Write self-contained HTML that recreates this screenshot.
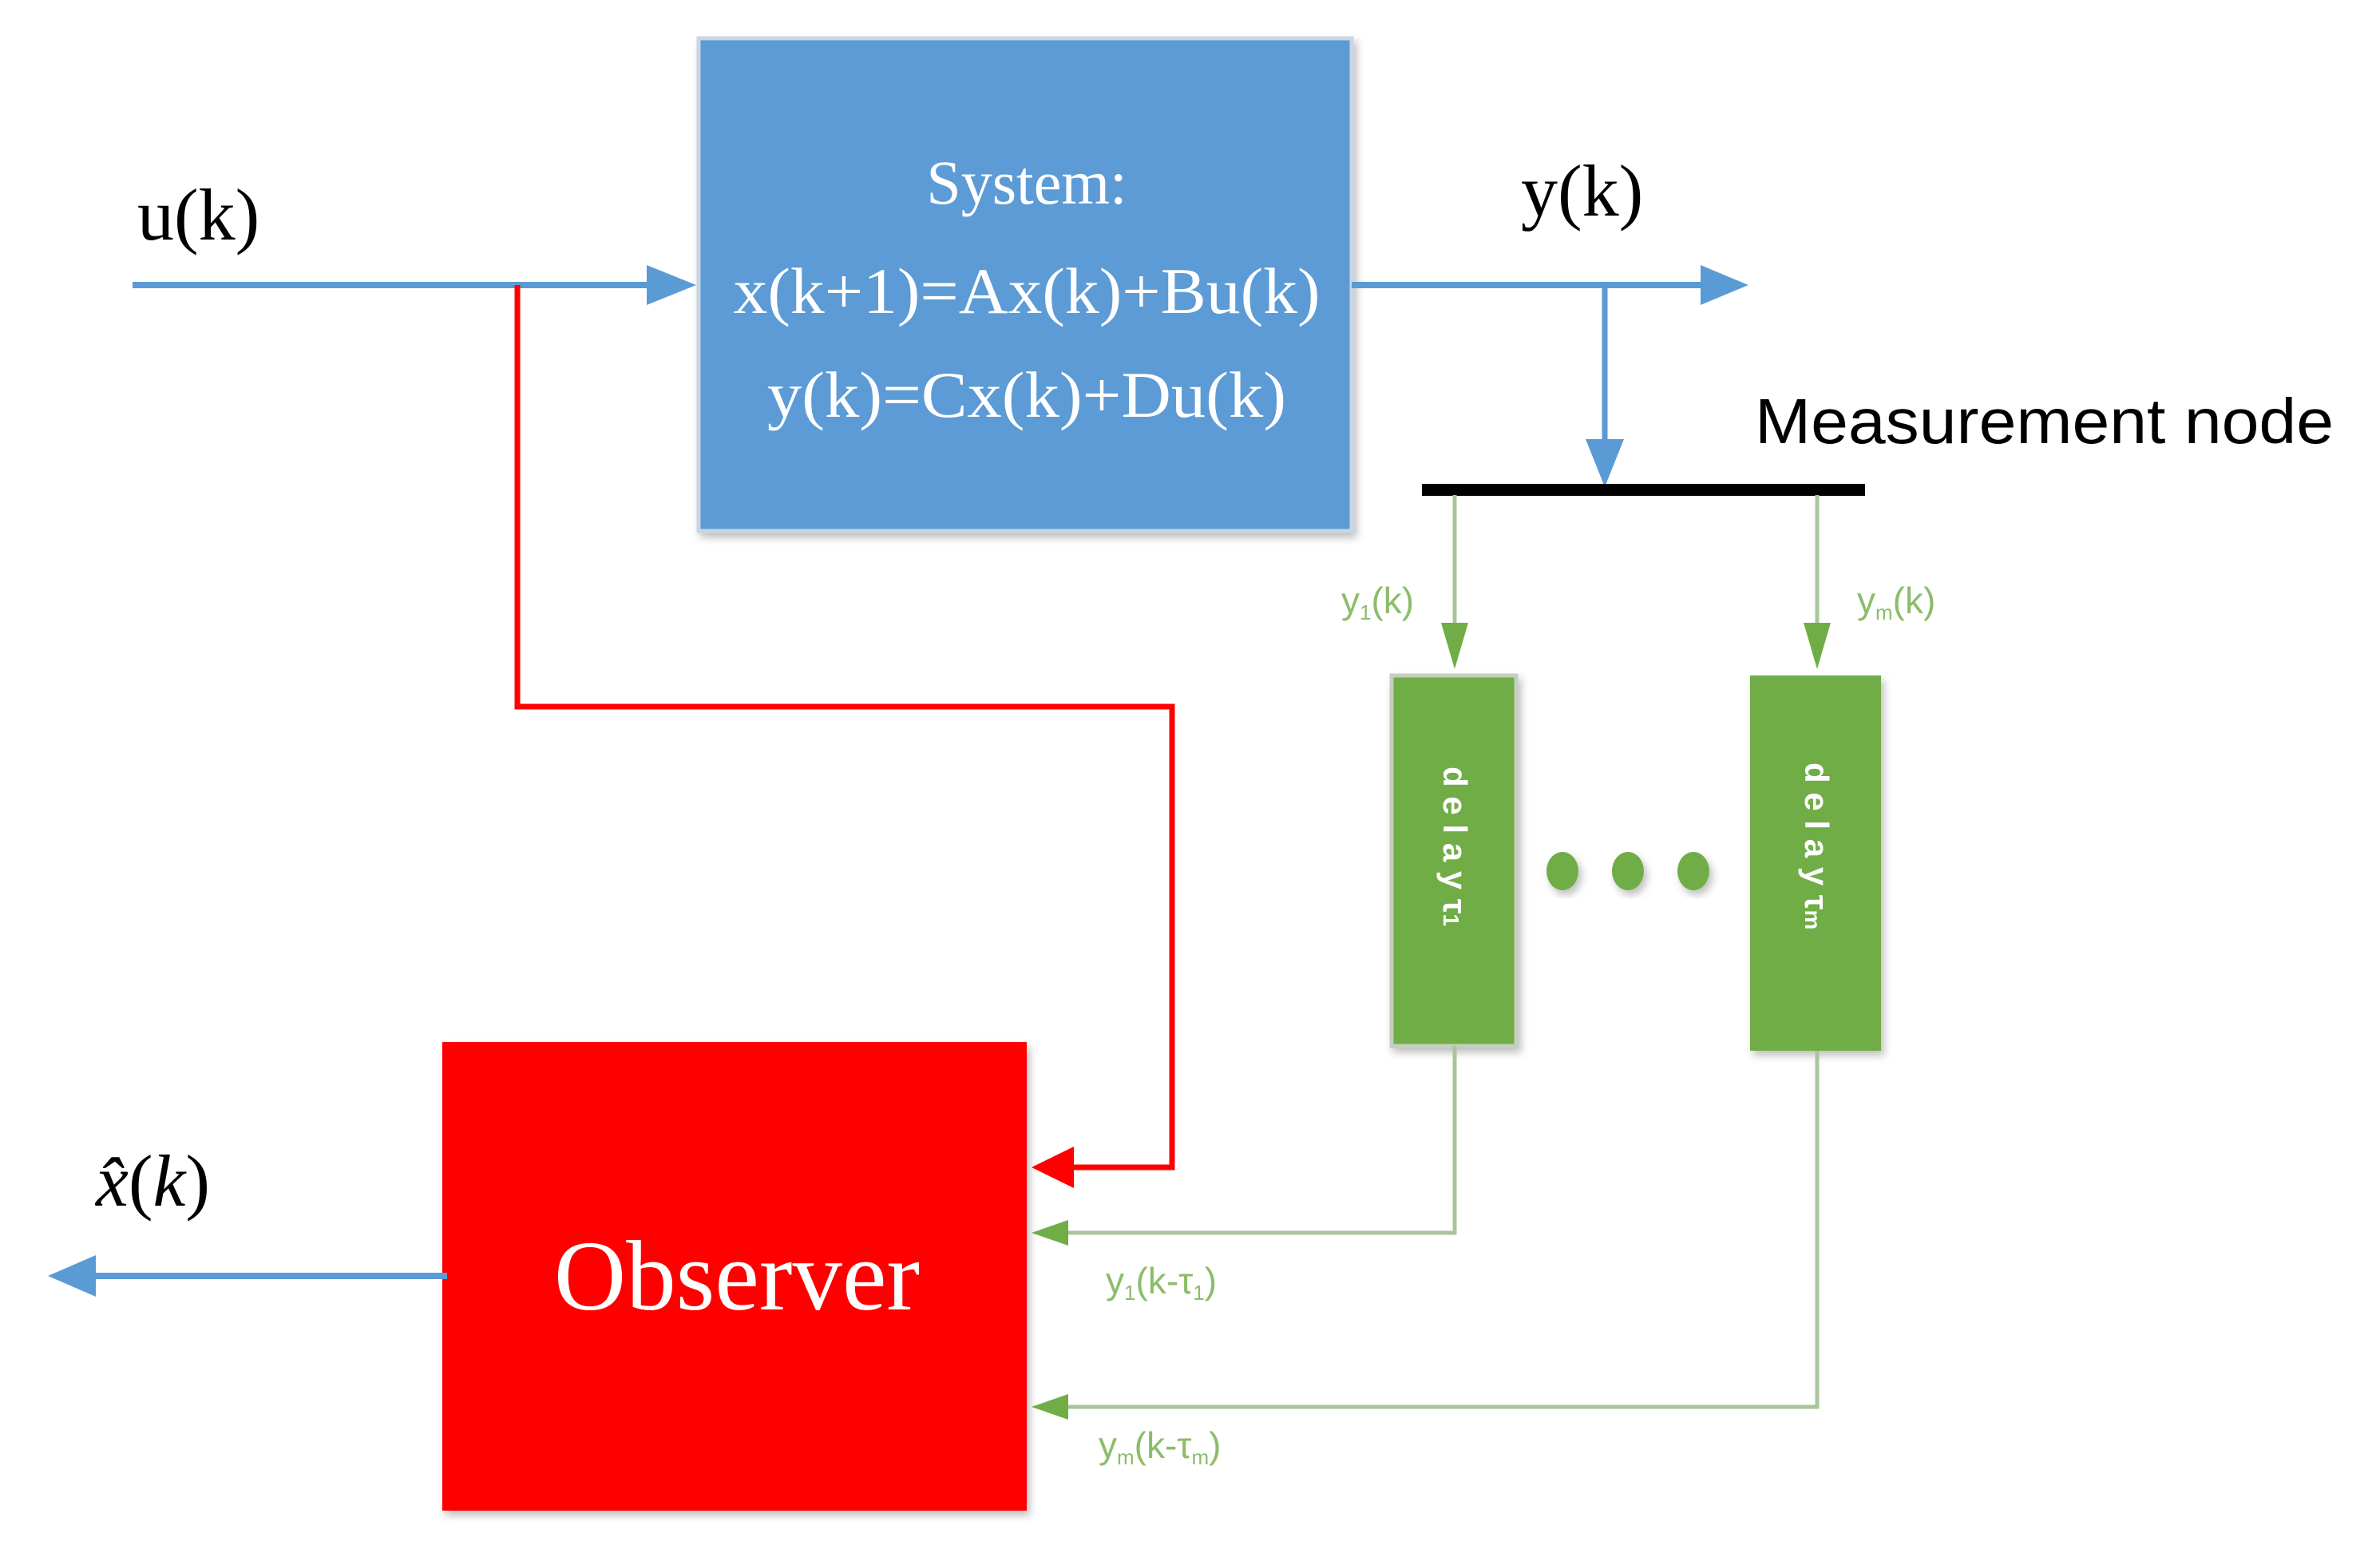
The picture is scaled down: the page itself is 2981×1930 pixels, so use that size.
<!DOCTYPE html>
<html><head><meta charset="utf-8"><style>html,body{margin:0;padding:0;background:#fff}svg{display:block}</style></head>
<body>
<svg width="2981" height="1930" viewBox="0 0 2981 1930" xmlns="http://www.w3.org/2000/svg">
<defs>
<filter id="sh" x="-10%" y="-10%" width="130%" height="130%"><feDropShadow dx="4" dy="6" stdDeviation="5" flood-color="#000" flood-opacity="0.25"/></filter>
</defs>
<!-- System box -->
<rect x="875" y="48" width="818" height="617" fill="#5b9bd5" stroke="#c9d6e3" stroke-width="5" filter="url(#sh)"/>
<g font-family="Liberation Serif, serif" fill="#fff" text-anchor="middle">
<text x="1286" y="255" font-size="78">System:</text>
<text x="1286" y="392" font-size="82" textLength="735" lengthAdjust="spacingAndGlyphs">x(k+1)=Ax(k)+Bu(k)</text>
<text x="1286" y="522" font-size="82" textLength="650" lengthAdjust="spacingAndGlyphs">y(k)=Cx(k)+Du(k)</text>
</g>
<!-- u(k) -->
<text x="172" y="300" font-family="Liberation Serif, serif" font-size="92" fill="#000">u(k)</text>
<line x1="166" y1="357" x2="815" y2="357" stroke="#5b9bd5" stroke-width="8"/>
<polygon points="810,332 872,357 810,382" fill="#5b9bd5"/>
<!-- red feedback -->
<polyline points="648,357 648,885 1468,885 1468,1462 1340,1462" fill="none" stroke="#ff0000" stroke-width="7"/>
<polygon points="1345,1436 1292,1462 1345,1488" fill="#ff0000"/>
<!-- y(k) -->
<text x="1905" y="270" font-family="Liberation Serif, serif" font-size="92" fill="#000">y(k)</text>
<line x1="1693" y1="357" x2="2135" y2="357" stroke="#5b9bd5" stroke-width="8"/>
<polygon points="2130,332 2190,357 2130,382" fill="#5b9bd5"/>
<line x1="2010" y1="357" x2="2010" y2="555" stroke="#5b9bd5" stroke-width="7"/>
<polygon points="1986,550 2010,610 2034,550" fill="#5b9bd5"/>
<text x="2198" y="555" font-family="Liberation Sans, sans-serif" font-size="80" fill="#000" textLength="725" lengthAdjust="spacingAndGlyphs">Measurement node</text>
<!-- bar -->
<rect x="1781" y="606" width="555" height="15" fill="#000"/>
<!-- green down arrows -->
<g stroke="#a9c59a" stroke-width="5">
<line x1="1822" y1="620" x2="1822" y2="785"/>
<line x1="2276" y1="620" x2="2276" y2="785"/>
</g>
<polygon points="1805,780 1822,838 1839,780" fill="#70ad47"/>
<polygon points="2259,780 2276,838 2293,780" fill="#70ad47"/>
<g font-family="Liberation Sans, sans-serif" fill="#8cbd6a" font-size="46">
<text x="1680" y="768">y<tspan font-size="26" dy="8">1</tspan><tspan dy="-8">(k)</tspan></text>
<text x="2326" y="768">y<tspan font-size="26" dy="8">m</tspan><tspan dy="-8">(k)</tspan></text>
</g>
<!-- delay boxes -->
<rect x="1743" y="846" width="156" height="464" fill="#70ad47" stroke="#c5cfbf" stroke-width="5" filter="url(#sh)"/>
<rect x="2192" y="846" width="164" height="470" fill="#70ad47" filter="url(#sh)"/>
<g font-family="Liberation Sans, sans-serif" fill="#fff" font-size="42" font-weight="bold">
<text transform="translate(1808,960) rotate(90)">d e l a y τ<tspan font-size="28">1</tspan></text>
<text transform="translate(2261,955) rotate(90)">d e l a y τ<tspan font-size="28">m</tspan></text>
</g>
<g fill="#70ad47" filter="url(#sh)">
<ellipse cx="1957" cy="1091" rx="20" ry="24"/>
<ellipse cx="2039" cy="1091" rx="20" ry="24"/>
<ellipse cx="2121" cy="1091" rx="20" ry="24"/>
</g>
<!-- green return lines -->
<g fill="none" stroke="#a9c59a" stroke-width="5">
<polyline points="1822,1310 1822,1544 1330,1544"/>
<polyline points="2276,1316 2276,1762 1330,1762"/>
</g>
<polygon points="1338,1528 1292,1544 1338,1560" fill="#70ad47"/>
<polygon points="1338,1746 1292,1762 1338,1778" fill="#70ad47"/>
<g font-family="Liberation Sans, sans-serif" fill="#8cbd6a" font-size="46">
<text x="1385" y="1620">y<tspan font-size="26" dy="8">1</tspan><tspan dy="-8">(k-τ</tspan><tspan font-size="26" dy="8">1</tspan><tspan dy="-8">)</tspan></text>
<text x="1376" y="1826">y<tspan font-size="26" dy="8">m</tspan><tspan dy="-8">(k-τ</tspan><tspan font-size="26" dy="8">m</tspan><tspan dy="-8">)</tspan></text>
</g>
<!-- Observer -->
<rect x="554" y="1305" width="732" height="587" fill="#ff0000" filter="url(#sh)"/>
<text x="923" y="1640" font-family="Liberation Serif, serif" font-size="125" fill="#fff" text-anchor="middle">Observer</text>
<!-- x hat -->
<text x="120" y="1510" font-family="Liberation Serif, serif" font-size="92" font-style="italic" fill="#000">x̂<tspan font-style="normal">(</tspan>k<tspan font-style="normal">)</tspan></text>
<line x1="560" y1="1598" x2="110" y2="1598" stroke="#5b9bd5" stroke-width="8"/>
<polygon points="120,1572 60,1598 120,1624" fill="#5b9bd5"/>
</svg>
</body></html>
